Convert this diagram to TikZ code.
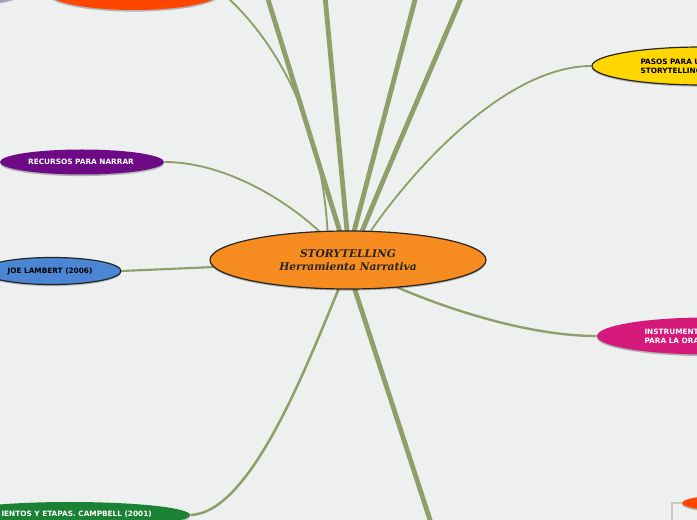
\documentclass[tikz,border=0pt]{standalone}
\usepackage{fontspec}
\setmainfont{DejaVu Sans}
\newfontfamily\titlefont{DejaVu Serif}
\usetikzlibrary{shapes.geometric,shadows,backgrounds}

\definecolor{bgGray}{RGB}{238,240,239}
\definecolor{branchOlive}{RGB}{143,159,106}
\definecolor{coreOrange}{RGB}{246,139,31}
\definecolor{redOrange}{RGB}{255,69,0}
\definecolor{lavender}{RGB}{165,139,208}
\definecolor{pasosYellow}{RGB}{255,215,0}
\definecolor{instrMagenta}{RGB}{212,25,122}
\definecolor{recPurple}{RGB}{110,10,134}
\definecolor{joeBlue}{RGB}{74,134,212}
\definecolor{campGreen}{RGB}{27,130,51}
\definecolor{stubGray}{RGB}{200,200,192}

\tikzset{every picture/.style={line width=0.75pt}}
\tikzset{
  topic/.style={ellipse, inner sep=0pt, draw=none,
    drop shadow={shadow xshift=0pt, shadow yshift=-1.2pt, opacity=0.25, fill=black}},
  rimmed/.style={draw=black!85, line width=0.9pt},
  lbl/.style={inner sep=0.75pt, font=\bfseries\fontsize{5.5}{6.8}\selectfont, align=left},
  branch/.style={draw=branchOlive, line width=3.6pt, line cap=round},
  twig/.style={draw=branchOlive, line width=1.4pt},
  stub/.style={draw=stubGray, line width=0.9pt},
}

\begin{document}
\begin{tikzpicture}[x=0.75pt,y=0.75pt,yscale=-1,xscale=1]
\useasboundingbox (0,0) rectangle (697,520);
\clip (0,0) rectangle (697,520);

%Shape: Ellipse [id:core]
\node [topic, rimmed, fill=coreOrange, minimum width={276*0.75pt}, minimum height={58*0.75pt}] (core) at (348,260) {};
%Shape: Ellipse [id:lavender]
\node [topic, fill=lavender, minimum width={110*0.75pt}, minimum height={28*0.75pt}] (lav) at (-30,-10) {};
%Shape: Ellipse [id:orangetop]
\node [topic, fill=redOrange, minimum width={174*0.75pt}, minimum height={36*0.75pt}] (orangetop) at (134,-8) {};
%Shape: Ellipse [id:pasos]
\node [topic, rimmed, fill=pasosYellow, minimum width={220*0.75pt}, minimum height={38*0.75pt}] (pasos) at (702,66) {};
%Shape: Ellipse [id:instr]
\node [topic, fill=instrMagenta, minimum width={220*0.75pt}, minimum height={37*0.75pt}] (instr) at (707,336) {};
%Shape: Ellipse [id:recursos]
\node [topic, fill=recPurple, minimum width={164*0.75pt}, minimum height={25*0.75pt}] (recursos) at (82,162) {};
%Shape: Ellipse [id:joe]
\node [topic, rimmed, fill=joeBlue, minimum width={138*0.75pt}, minimum height={27*0.75pt}] (joe) at (52,271) {};
%Shape: Ellipse [id:campbell]
\node [topic, fill=campGreen, minimum width={240*0.75pt}, minimum height={26*0.75pt}] (campbell) at (70,515) {};
%Shape: Ellipse [id:redtip]
\node [topic, fill=redOrange, minimum width={166*0.75pt}, minimum height={20*0.75pt}] (redtip) at (765,503) {};

\coordinate (tipA) at (267,-4);
\coordinate (tipB) at (325,-4);
\coordinate (tipC) at (416,-4);
\coordinate (tipD) at (462,-4);
\coordinate (tipE) at (432,526);
\coordinate (stubEnd) at (672,530);

\begin{scope}[on background layer]
\fill [bgGray] (0,0) rectangle (697,520);
%Curve Lines [id:to-orangetop]
\draw [twig] (core.125) .. controls (322,130) and (282,45) .. (orangetop.east) ;
%Straight Lines [id:branch-a]
\draw [branch] (core.106) -- (tipA) ;
%Straight Lines [id:branch-b]
\draw [branch] (core.92) -- (tipB) ;
%Straight Lines [id:branch-c]
\draw [branch] (core.78) -- (tipC) ;
%Curve Lines [id:branch-d]
\draw [branch] (core.64) .. controls (385,175) and (435,60) .. (tipD) ;
%Curve Lines [id:to-pasos]
\draw [twig] (core.52) .. controls (420,160) and (510,66) .. (pasos.west) ;
%Curve Lines [id:to-recursos]
\draw [twig] (core.135) .. controls (280,195) and (220,162) .. (recursos.east) ;
%Straight Lines [id:to-joe]
\draw [twig, line width=1.6pt] (core.183) -- (joe.east) ;
%Curve Lines [id:to-instr]
\draw [twig, line width=1.8pt] (core.331) .. controls (450,310) and (530,336) .. (instr.west) ;
%Curve Lines [id:to-campbell]
\draw [twig, line width=1.9pt] (core.252) .. controls (305,370) and (250,513) .. (campbell.east) ;
%Straight Lines [id:branch-e]
\draw [branch] (core.283) -- (tipE) ;
%Straight Lines [id:to-redtip]
\draw [stub] (stubEnd) |- (redtip.west) ;
\end{scope}

% Text Node
\node [inner sep=0.75pt, align=center, text=black!85, font=\titlefont\bfseries\itshape\fontsize{8}{10}\selectfont] (coreText) at (348,260) {STORYTELLING\\Herramienta Narrativa};
% Text Node
\node [lbl, anchor=west, text=black] (pasosText) at (639,66) {PASOS PARA U\\STORYTELLING};
% Text Node
\node [lbl, anchor=west, text=white] (instrText) at (643,336) {INSTRUMENTO\\PARA LA ORA};
% Text Node
\node [lbl, text=white] (recursosText) at (81,162) {RECURSOS PARA NARRAR};
% Text Node
\node [lbl, text=black] (joeText) at (50,271) {JOE LAMBERT (2006)};
% Text Node
\node [lbl, anchor=west, text=white] (campbellText) at (0,514) {IENTOS Y ETAPAS. CAMPBELL (2001)};

\end{tikzpicture}
\end{document}
